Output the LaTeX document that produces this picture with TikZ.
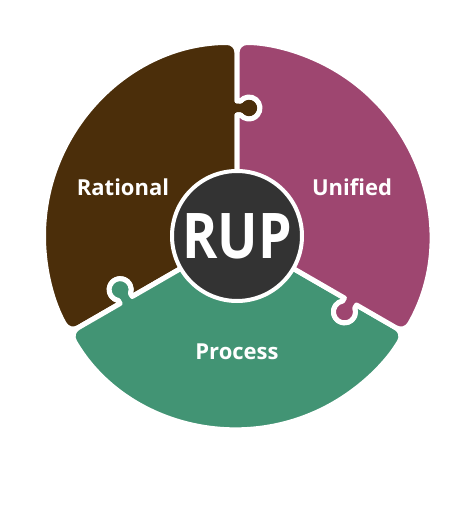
\documentclass[tikz,border=0pt]{standalone}
\usepackage{fontspec}
\setsansfont{Open Sans}
\usetikzlibrary{calc}

\definecolor{rupbrown}{RGB}{75,46,10}
\definecolor{rupmagenta}{RGB}{158,70,112}
\definecolor{rupgreen}{RGB}{66,148,116}
\definecolor{rupdark}{RGB}{51,51,51}

% puzzle knob on the edge at angle #1, distance #2, side #3
\newcommand{\knobout}[3]{-- ($(#1:{#2-7})$) -- ($(#1:{#2-7})+({#1+90}:{#3*3.5})$)
  arc[start angle={#1+180+50.5*#3}, end angle={#1+180-230.5*#3}, radius=11]
  -- ($(#1:{#2+7})$)}
\newcommand{\knobin}[3]{-- ($(#1:{#2+7})$) -- ($(#1:{#2+7})+({#1+90}:{#3*3.5})$)
  arc[start angle={#1+180-230.5*#3}, end angle={#1+180+50.5*#3}, radius=11]
  -- ($(#1:{#2-7})$)}

\begin{document}
\begin{tikzpicture}[x=1pt,y=1pt,
    piece/.style={draw=white,line width=5pt,line join=round},
    piecetext/.style={text=white,font=\sffamily\bfseries\fontsize{22}{26}\selectfont}]
  \fill[white] (-237,-269) rectangle (237,236);
  \useasboundingbox (-237,-269) rectangle (237,236);

  \path[piece,fill=rupbrown] (0,0) \knobout{90}{128}{-1} -- (90:170)
    [rounded corners=10] -- (90:193.5) arc[start angle=90,end angle=210,radius=193.5]
    -- (210:170) [sharp corners] \knobin{210}{128}{-1} -- cycle;
  \path[piece,fill=rupgreen] (0,0) \knobout{210}{128}{-1} -- (210:170)
    [rounded corners=10] -- (210:193.5) arc[start angle=210,end angle=330,radius=193.5]
    -- (330:170) [sharp corners] \knobin{330}{131}{-1} -- cycle;
  \path[piece,fill=rupmagenta] (0,0) \knobout{330}{131}{-1} -- (330:170)
    [rounded corners=10] -- (330:193.5) arc[start angle=-30,end angle=90,radius=193.5]
    -- (90:170) [sharp corners] \knobin{90}{128}{-1} -- cycle;

  \node[piecetext] (rational) at (-114,49) {Rational};
  \node[piecetext] (unified) at (115,49) {Unified};
  \node[piecetext] (process) at (0,-116) {Process};

  \node[circle,fill=rupdark,draw=white,line width=4pt,minimum size=130pt,inner sep=0pt,
    text=white,font=\sffamily\bfseries\fontsize{63}{70}\selectfont] (rup) at (0,0)
    {\scalebox{0.85}[1]{RUP}};
\end{tikzpicture}
\end{document}
